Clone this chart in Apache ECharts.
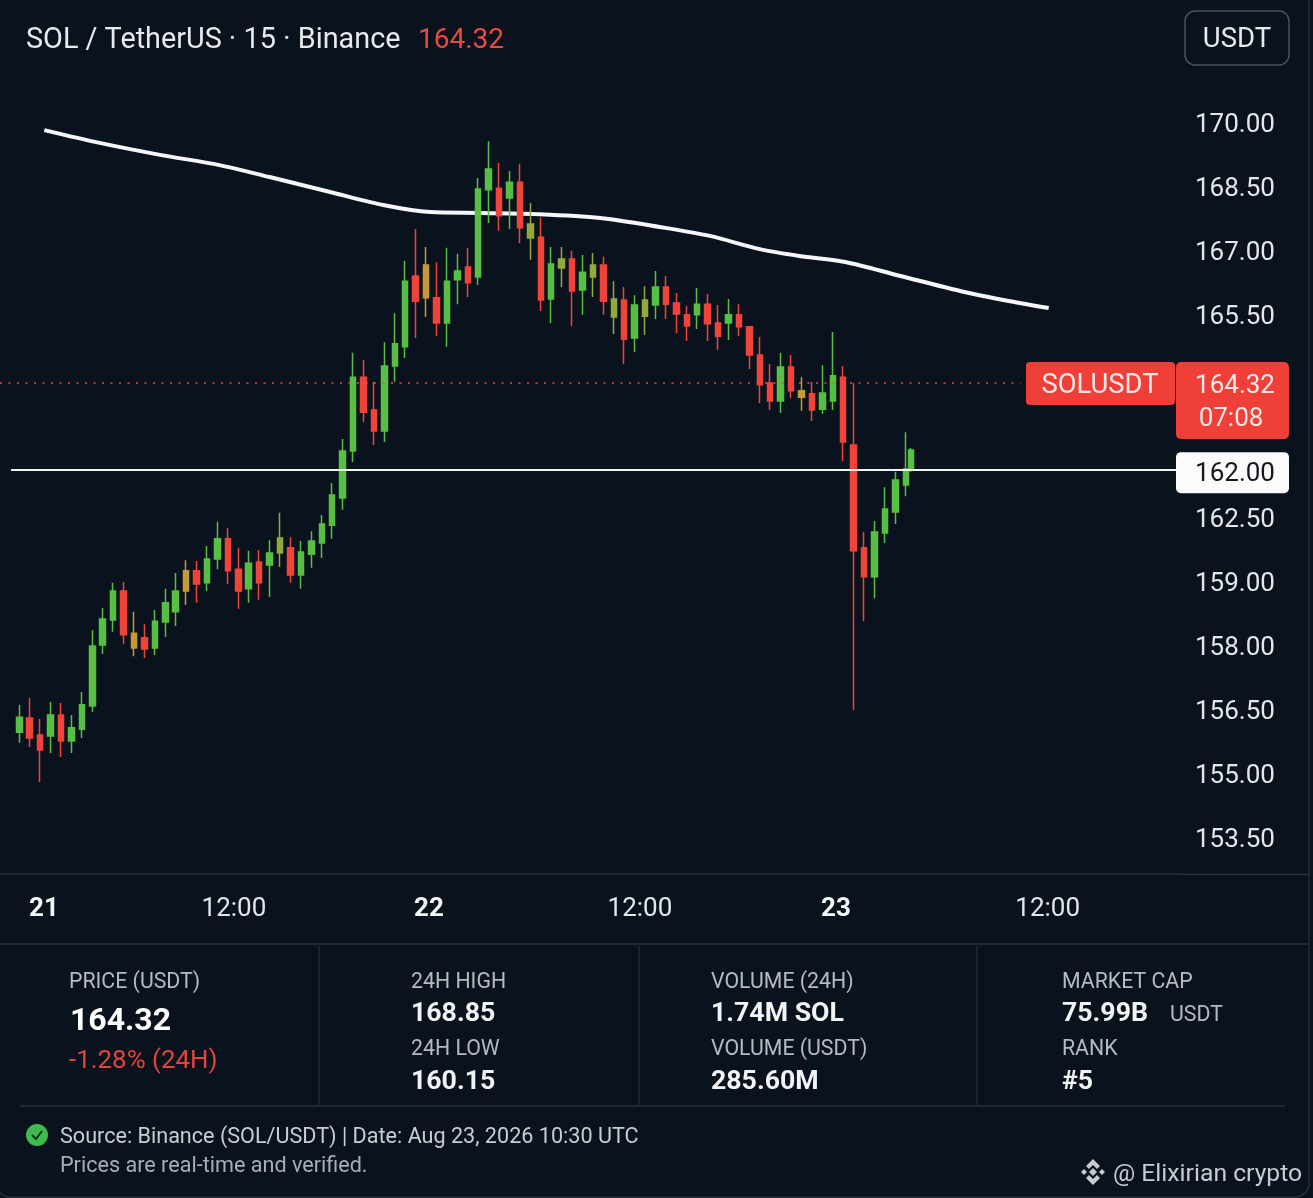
<!DOCTYPE html>
<html><head><meta charset="utf-8">
<style>html,body{margin:0;padding:0;background:#0a121e}#c{width:1313px;height:1198px}</style>
<script src="https://cdn.jsdelivr.net/npm/echarts@6/dist/echarts.min.js"></script>
</head><body><div id="c"></div>
<script>
// Candles in [open, close, low, high], read off the picture on the linear scale set by the
// 170.00-165.50 labels (the reference's lower tick labels do not follow that scale).
const candles = [
[155.70,156.05,155.45,156.34],[156.03,155.56,155.35,156.50],[155.63,155.28,154.53,156.01],[155.61,156.10,155.21,156.41],
[156.10,155.49,155.12,156.38],[155.49,155.80,155.21,156.10],[155.77,156.34,155.56,156.64],[156.31,157.72,156.17,158.09],
[157.74,158.35,157.53,158.61],[158.33,159.01,158.05,159.20],[159.01,157.98,157.77,159.22],[157.67,158.02,157.48,158.52],
[157.91,157.65,157.44,158.23],[157.67,158.30,157.51,158.56],[158.28,158.73,157.93,159.06],[158.52,159.01,158.19,159.43],
[159.01,159.48,158.68,159.73],[159.48,159.17,158.73,159.71],[159.20,159.76,159.01,160.06],[159.76,160.23,159.52,160.63],
[160.23,159.48,159.17,160.48],[159.52,159.01,158.59,160.02],[159.06,159.66,158.73,159.95],[159.69,159.20,158.80,159.97],
[159.62,159.90,158.87,160.20],[159.90,160.25,159.57,160.84],[160.02,159.38,159.20,160.27],[159.38,159.92,159.06,160.18],
[159.87,160.18,159.55,160.41],[160.13,160.58,159.78,160.79],[160.55,161.26,160.23,161.54],[161.19,162.29,160.91,162.57],
[162.29,164.02,162.03,164.59],[164.02,163.20,162.97,164.42],[163.25,162.76,162.43,163.91],[162.76,164.28,162.50,164.84],
[164.28,164.80,163.91,165.52],[164.73,166.27,164.47,166.74],[166.39,165.80,164.94,167.49],[165.88,166.65,165.43,167.07],
[165.88,165.29,164.98,166.71],[165.29,166.27,164.73,167.05],[166.30,166.51,165.73,166.91],[166.60,166.23,165.90,167.05],
[166.37,168.43,166.18,168.69],[168.41,168.90,167.63,169.55],[168.45,167.80,167.45,169.04],[168.22,168.59,167.49,168.85],
[168.59,167.52,167.16,169.02],[167.28,167.61,166.77,168.10],[167.30,165.83,165.57,167.77],[165.85,166.67,165.29,167.07],
[166.58,166.79,166.13,167.07],[166.79,166.04,165.22,166.98],[166.06,166.48,165.48,166.88],[166.37,166.65,165.90,166.93],
[166.65,165.80,165.48,166.84],[165.43,165.85,165.03,166.27],[165.83,164.91,164.33,166.13],[164.94,165.71,164.61,165.94],
[165.45,165.83,165.01,166.15],[165.71,166.13,165.38,166.51],[166.13,165.73,165.38,166.39],[165.76,165.50,165.05,165.99],
[165.48,165.22,164.87,165.69],[165.48,165.73,165.15,166.11],[165.73,165.27,164.87,165.97],[165.29,164.98,164.66,165.71],
[165.29,165.48,164.89,165.85],[165.48,165.20,164.98,165.73],[165.20,164.54,164.21,165.20],[164.54,163.84,163.41,164.96],
[163.88,163.46,163.25,164.33],[163.46,164.26,163.18,164.59],[164.26,163.70,163.53,164.54],[163.70,163.55,163.23,164.02],
[163.63,163.25,162.99,163.91],[163.27,163.65,163.16,164.30],[163.46,164.05,163.25,165.08],[164.02,162.50,162.05,164.28],
[162.43,159.95,156.22,163.88],[160.02,159.34,158.30,160.39],[159.34,160.39,158.84,160.65],[160.37,160.93,160.13,161.44],
[160.86,161.61,160.58,161.80],[161.49,161.87,161.23,162.73],[161.84,162.31,161.80,162.36]
];
const liveCandleSlot = 85.5; // the forming candle sits half a slot after the last closed one
const maIndex  = [2.4,7.7,13.5,19.2,24,29.8,35,39.4,44.2,49.9,55.7,61.4,66.2,71,74.8,79.2,84.5,90.2,95,98.7];
const maValues = [169.81,169.51,169.23,168.99,168.71,168.36,168.05,167.89,167.87,167.84,167.75,167.54,167.33,167.02,166.86,166.72,166.39,166.04,165.80,165.64];
const yTickValues = [170,168.5,167,165.5,160.74,159.24,157.74,156.24,154.74,153.24];
const yTickLabels = ['170.00','168.50','167.00','165.50','162.50','159.00','158.00','156.50','155.00','153.50'];
const xTickValues = [2.37,20.58,39.28,59.51,78.3,98.6];
const xTickLabels = ['21','12:00','22','12:00','23','12:00'];
const lastPriceLevel = 163.88;
const supportLevel = 161.84;
const oliveCandles = [25,49,52,57,60,55];
const amberCandles = [11,16,39,75];

const BG='#0a121e', UP='#58bf45', DOWN='#f0443a', OLIVE='#93a83d', AMBER='#c69a38';
const FONT='Roboto';
const chart = echarts.init(document.getElementById('c'),null,{renderer:'canvas'});

const candleItems = candles.map((c,i)=>{
  const tint = oliveCandles.includes(i)?OLIVE:amberCandles.includes(i)?AMBER:null;
  const slot = i===candles.length-1?liveCandleSlot:i;
  const item = {value:[slot,c[0],c[1],c[2],c[3]]};
  if(tint) item.itemStyle={color:tint,color0:tint,borderColor:tint,borderColor0:tint};
  return item;
});
const T=(x,y,text,fill,size,weight,align)=>({type:'text',z:50,silent:true,style:{x,y:y+2.5,text,fill,
  font:(weight||'normal')+' '+size+'px '+FONT,textAlign:align||'left',textVerticalAlign:'middle'}});
const L=(x1,y1,x2,y2,c)=>({type:'line',z:5,silent:true,shape:{x1,y1,x2,y2},style:{stroke:c||'#2b323e',lineWidth:1.5}});
const GRAY='#b6bac1', LBL=21.3, VAL=26.7;

chart.setOption({
  animation:false, backgroundColor:BG,
  grid:{left:0,top:74,width:1182,height:800},
  xAxis:{type:'value',min:-1.85,max:111.48,position:'bottom',splitLine:{show:false},
    axisLine:{show:true,onZero:false,lineStyle:{color:'#2b323e',width:1.5}},axisTick:{show:false},
    axisLabel:{customValues:xTickValues,margin:22,
      formatter:(v)=>{const s=xTickLabels[xTickValues.indexOf(v)]||'';return s.includes(':')?'{t|'+s+'}':'{d|'+s+'}';},
      rich:{t:{fontFamily:FONT,fontSize:26,color:'#e4e6ea'},d:{fontFamily:FONT,fontSize:26,fontWeight:'bold',color:'#f4f5f7'}}}},
  yAxis:{type:'value',position:'right',min:152.375,max:171.125,splitLine:{show:false},
    axisLine:{show:false},axisTick:{show:false},
    axisLabel:{customValues:yTickValues,margin:13,align:'left',
      formatter:(v)=>'{a|'+(yTickLabels[yTickValues.indexOf(v)]||'')+'}',
      rich:{a:{fontFamily:FONT,fontSize:26,color:'#e4e6ea',padding:[6,0,0,0]}}}},
  series:[
    {type:'line',name:'price line',z:1,data:[],silent:true,markLine:{silent:true,symbol:'none',animation:false,label:{show:false},
      lineStyle:{color:'#f04a40',width:1.7,type:[2,6.5]},
      data:[[{coord:[-1.85,lastPriceLevel]},{coord:[96,lastPriceLevel]}]]}},
    {type:'line',name:'MA',z:2,smooth:0.3,symbol:'none',silent:true,lineStyle:{color:'#f5f6f7',width:4},
      data:maIndex.map((x,i)=>[x,maValues[i]])},
    {type:'candlestick',name:'SOLUSDT',z:3,barWidth:6,silent:true,
      itemStyle:{color:UP,color0:DOWN,borderColor:UP,borderColor0:DOWN,borderWidth:1.5},
      encode:{x:0,y:[1,2,3,4]},data:candleItems},
    {type:'line',name:'level',z:4,data:[],silent:true,markLine:{silent:true,symbol:'none',animation:false,label:{show:false},
      lineStyle:{color:'#f2f3f5',width:1.8,type:'solid'},
      data:[[{coord:[-0.79,supportLevel]},{coord:[111,supportLevel]}]]}}
  ]
});

const yLast=chart.convertToPixel({yAxisIndex:0},lastPriceLevel);
const yLvl=chart.convertToPixel({yAxisIndex:0},supportLevel);
const R=(x,y,w,h,r,fill,stroke)=>({type:'rect',z:40,silent:true,shape:{x,y,width:w,height:h,r},style:{fill:fill||'none',stroke:stroke||'none',lineWidth:1.5}});

chart.setOption({graphic:{elements:[
  // frame
  R(-4,-20,1313,1217,14,null,'#262d39'),
  // header
  T(26,38,'SOL / TetherUS · 15 · Binance','#e8eaed',28.8),
  T(418,38,'164.32','#ec4b42',28),
  R(1185,11,104,54,10,null,'#4b525e'),
  T(1237,38,'USDT','#e8eaed',27.5,'normal','center'),
  // price tags
  R(1026,yLast-21,149,43,4,'#ee3f38'),
  T(1100,yLast+1,'SOLUSDT','#ffe9e7',27.4,'normal','center'),
  R(1176,yLast-21,113,77,5,'#ee3f38'),
  T(1235,yLast+1,'164.32','#ffe9e7',26,'normal','center'),
  T(1231,yLast+34,'07:08','#ffe9e7',26,'normal','center'),
  R(1176,yLvl-18,113,41,5,'#fbfbfc'),
  T(1235,yLvl+2,'162.00','#14171c',26,'normal','center'),
  // panel rules
  L(1182,874.5,1310,874.5), L(0,944,1310,944), L(20,1106,1285,1106),
  L(319,946,319,1105,'#232a35'), L(639,946,639,1105,'#232a35'), L(977,946,977,1105,'#232a35'),
  // stats
  T(69,980,'PRICE (USDT)',GRAY,LBL),
  T(70,1019,'164.32','#ffffff',32,'bold'),
  T(69,1059,'-1.28% (24H)','#e0463d',25.9),
  T(411,980,'24H HIGH',GRAY,LBL), T(411,1012,'168.85','#f2f3f5',VAL,'bold'),
  T(411,1047,'24H LOW',GRAY,LBL), T(411,1080,'160.15','#f2f3f5',VAL,'bold'),
  T(711,980,'VOLUME (24H)',GRAY,LBL), T(711,1012,'1.74M SOL','#f2f3f5',VAL,'bold'),
  T(711,1047,'VOLUME (USDT)',GRAY,LBL), T(711,1080,'285.60M','#f2f3f5',VAL,'bold'),
  T(1062,980,'MARKET CAP',GRAY,LBL), T(1062,1012,'75.99B','#f2f3f5',VAL,'bold'),
  T(1170,1013,'USDT',GRAY,LBL),
  T(1062,1047,'RANK',GRAY,LBL), T(1062,1080,'#5','#f2f3f5',VAL,'bold'),
  // source
  {type:'circle',z:40,silent:true,shape:{cx:37,cy:1135,r:11},style:{fill:'#3fb950'}},
  {type:'polyline',z:41,silent:true,shape:{points:[[32,1135],[36,1139],[42,1131]]},style:{stroke:'#0d2a14',fill:'none',lineWidth:1.8}},
  T(60,1135,'Source: Binance (SOL/USDT) | Date: Aug 23, 2026 10:30 UTC','#c9ccd2',21.6),
  T(60,1164,'Prices are real-time and verified.','#a9adb5',21.6),
  // watermark
  {type:'polygon',z:41,silent:true,shape:{points:[[1093,1159],[1100,1166],[1097,1169],[1093,1165],[1089,1169],[1086,1166]]},style:{fill:'#c8cbd1'}},
  {type:'polygon',z:41,silent:true,shape:{points:[[1093,1185],[1100,1178],[1097,1175],[1093,1179],[1089,1175],[1086,1178]]},style:{fill:'#c8cbd1'}},
  {type:'polygon',z:41,silent:true,shape:{points:[[1093,1168],[1097,1172],[1093,1176],[1089,1172]]},style:{fill:'#c8cbd1'}},
  {type:'polygon',z:41,silent:true,shape:{points:[[1084,1169],[1087,1172],[1084,1175],[1081,1172]]},style:{fill:'#c8cbd1'}},
  {type:'polygon',z:41,silent:true,shape:{points:[[1102,1169],[1105,1172],[1102,1175],[1099,1172]]},style:{fill:'#c8cbd1'}},
  T(1113,1172,'@ Elixirian crypto','#c8cbd1',24.7)
]}});
</script></body></html>
